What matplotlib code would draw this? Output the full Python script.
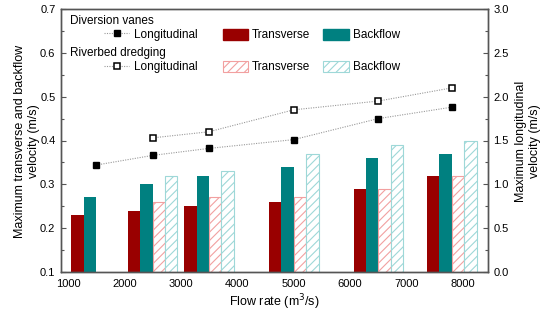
import matplotlib
matplotlib.use("Agg")
import matplotlib.pyplot as plt
from matplotlib.lines import Line2D
from matplotlib.patches import Patch
import numpy as np

plt.rcParams['font.family'] = ['Liberation Sans', 'DejaVu Sans']
plt.rcParams['hatch.linewidth'] = 0.8

# Data
flow_dv = [1500, 2500, 3500, 5000, 6500, 7800]
dv_transverse = [0.23, 0.24, 0.25, 0.26, 0.29, 0.32]
dv_backflow = [0.27, 0.30, 0.32, 0.34, 0.36, 0.37]
dv_longitudinal = [1.22, 1.33, 1.41, 1.51, 1.75, 1.88]

flow_rd = [2500, 3500, 5000, 6500, 7800]
rd_transverse = [0.26, 0.27, 0.27, 0.29, 0.32]
rd_backflow = [0.32, 0.33, 0.37, 0.39, 0.40]
rd_longitudinal = [1.53, 1.60, 1.85, 1.95, 2.10]

xticks = [1000, 2000, 3000, 4000, 5000, 6000, 7000, 8000]

RED = '#990000'
TEAL = '#008080'
PINK = '#F2A0A0'
CYAN = '#9ED8D8'
SPINE = '#555555'
LINEC = '#999999'

W, H = 550, 315
fig = plt.figure(figsize=(W / 100, H / 100), dpi=100)
ax = fig.add_axes([61 / W, 1 - 272 / H, (488 - 61) / W, (272 - 9) / H])
ax2 = ax.twinx()

bw = 220
fdv = np.array(flow_dv, dtype=float)
frd = np.array(flow_rd, dtype=float)
ax.bar(fdv - 1.5 * bw, dv_transverse, width=bw, color=RED, bottom=0, zorder=2)
ax.bar(fdv - 0.5 * bw, dv_backflow, width=bw, color=TEAL, zorder=2)
ax.bar(frd + 0.5 * bw, rd_transverse, width=bw, facecolor='white',
       edgecolor=PINK, hatch='////', linewidth=0.8, zorder=2)
ax.bar(frd + 1.5 * bw, rd_backflow, width=bw, facecolor='white',
       edgecolor=CYAN, hatch='////', linewidth=0.8, zorder=2)

MS = 4.4
ax2.plot(flow_dv, dv_longitudinal, ls=(0, (1, 1.2)), color=LINEC, lw=0.8,
         marker='s', ms=MS, mfc='black', mec='black', mew=1.0, zorder=3)
ax2.plot(flow_rd, rd_longitudinal, ls=(0, (1, 1.2)), color=LINEC, lw=0.8,
         marker='s', ms=MS, mfc='white', mec='black', mew=1.1, zorder=3)

ax.set_xlim(876, 8443)
ax.set_ylim(0.1, 0.7)
ax2.set_ylim(0, 3.0)

ax.set_xticks(xticks)
ax.set_xticklabels([str(v) for v in xticks])
ax.set_yticks(np.arange(0.1, 0.71, 0.1))
ax.set_yticklabels([f"{v:.1f}" for v in np.arange(0.1, 0.71, 0.1)])
ax.set_yticks(np.arange(0.15, 0.7, 0.1), minor=True)
ax2.set_yticks(np.arange(0, 3.01, 0.5))
ax2.set_yticklabels([f"{v:.1f}" for v in np.arange(0, 3.01, 0.5)])
ax2.set_yticks(np.arange(0.25, 3.0, 0.5), minor=True)

for a in (ax, ax2):
    for s in a.spines.values():
        s.set_color(SPINE)
        s.set_linewidth(1.0)
ax.tick_params(axis='x', length=0, labelsize=8, pad=5, colors='black')
ax.tick_params(axis='y', which='major', direction='in', length=3.5, width=0.8,
               color=SPINE, labelsize=8, pad=4)
ax.tick_params(axis='y', which='minor', direction='in', length=2, width=0.8, color=SPINE)
ax2.tick_params(axis='y', which='major', direction='in', length=3.5, width=0.8,
                color=SPINE, labelsize=8, pad=4)
ax2.tick_params(axis='y', which='minor', direction='in', length=2, width=0.8, color=SPINE)

fig.text(274 / W, 1 - 302 / H, 'Flow rate (m$^3$/s)', ha='center', va='center', fontsize=9)
fig.text(27 / W, 1 - 141 / H, 'Maximum transverse and backflow\nvelocity (m/s)',
         ha='center', va='center', rotation=90, fontsize=9, multialignment='center',
         linespacing=1.3)
fig.text(528 / W, 1 - 141 / H, 'Maximum longitudinal\nvelocity (m/s)',
         ha='center', va='center', rotation=90, fontsize=9, multialignment='center',
         linespacing=1.3)

# Legend
FS = 8.5
fig.text(70 / W, 1 - 21 / H, 'Diversion vanes', ha='left', va='center', fontsize=FS)
fig.text(70 / W, 1 - 53 / H, 'Riverbed dredging', ha='left', va='center', fontsize=FS)

def leg(handle, label, xpx, ypx, hl, pad):
    fig.legend([handle], [label], loc='center left',
               bbox_to_anchor=(xpx / W, 1 - ypx / H), frameon=False,
               borderpad=0, borderaxespad=0, handlelength=hl, handleheight=1.05,
               handletextpad=pad, fontsize=FS)

h_dv = Line2D([], [], ls=(0, (1, 1.2)), color=LINEC, lw=0.8, marker='s', ms=MS,
              mfc='black', mec='black')
h_rd = Line2D([], [], ls=(0, (1, 1.2)), color=LINEC, lw=0.8, marker='s', ms=MS,
              mfc='white', mec='black', mew=1.1)
p_red = Patch(facecolor=RED, edgecolor=RED)
p_teal = Patch(facecolor=TEAL, edgecolor=TEAL)
p_pink = Patch(facecolor='white', edgecolor=PINK, hatch='////', linewidth=0.8)
p_cyan = Patch(facecolor='white', edgecolor=CYAN, hatch='////', linewidth=0.8)

for y, hl_, pt, pb in ((35, h_dv, p_red, p_teal), (67, h_rd, p_pink, p_cyan)):
    leg(hl_, 'Longitudinal', 104, y, 2.15, 0.4)
    leg(pt, 'Transverse', 222.5, y, 2.2, 0.32)
    leg(pb, 'Backflow', 323, y, 2.2, 0.32)

fig.savefig('out.png', dpi=100)
